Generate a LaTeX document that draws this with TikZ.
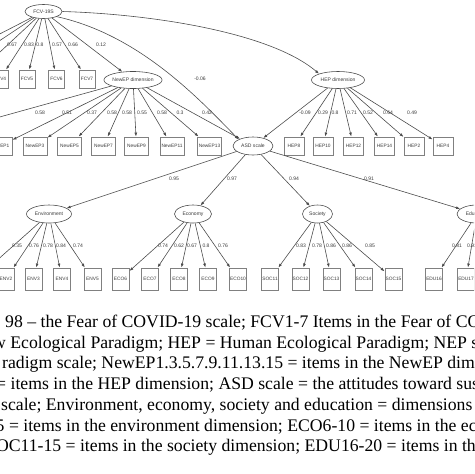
\documentclass[tikz,border=0pt]{standalone}
\usepackage{fontspec}
\setmainfont{Liberation Serif}
\setsansfont{Liberation Sans}
\usepackage{xcolor}
\usepackage{tikz}
\usetikzlibrary{shapes.geometric,arrows.meta}
\definecolor{edgeGray}{HTML}{4A4A4A}
\definecolor{boxGray}{HTML}{808080}
\definecolor{textGray}{HTML}{3C3C3C}
\tikzset{
	latent/.style = {ellipse, draw = edgeGray, line width = 0.5pt, inner sep = 0pt, font = \sffamily\fontsize{4.3}{5}\selectfont, text = textGray},
	indicator/.style = {rectangle, draw = boxGray, line width = 0.8pt, inner sep = 0pt, font = \sffamily\fontsize{4.1}{5}\selectfont, text = textGray},
	loading/.style = {inner sep = 0pt, font = \sffamily\fontsize{4.3}{5}\selectfont, text = textGray},
	regression/.style = {draw = edgeGray, line width = 0.5pt, -{Latex[length = 3.4pt, width = 2.4pt]}},
	caption/.style = {anchor = base west, inner sep = 0pt, font = \fontsize{15.1}{17}\selectfont}
}
\newcommand{\itemNode}[5]{
	\node[indicator, minimum width = #4cm, minimum height = #5cm] (#1) at (#2, #3) {#1};
}
\newcommand{\loading}[3]{
	\node[loading] at (#1, #2) {#3};
}

\begin{document}
\begin{tikzpicture}[x = 0.03cm, y = -0.03cm]%

		\useasboundingbox (0, 0) rectangle (474, 474);
		\fill[white] (0, 0) rectangle (474, 474);
		\clip (0, 0) rectangle (474, 474);

		% latent variables
		\node[latent, minimum width = 1.11cm, minimum height = 0.42cm] (fcv) at (43.5, 11.5) {FCV-19S};
		\node[latent, minimum width = 1.59cm, minimum height = 0.51cm] (newep) at (133, 80) {NewEP dimension};
		\node[latent, minimum width = 1.59cm, minimum height = 0.51cm] (hep) at (338, 80) {HEP dimension};
		\node[latent, minimum width = 1.20cm, minimum height = 0.54cm] (asd) at (253, 146) {ASD scale};
		\node[latent, minimum width = 1.35cm, minimum height = 0.54cm] (env) at (49, 214) {Environment};
		\node[latent, minimum width = 1.11cm, minimum height = 0.54cm] (eco) at (193, 214) {Economy};
		\node[latent, minimum width = 0.90cm, minimum height = 0.54cm] (soc) at (317.5, 214) {Society};
		\node[latent, minimum width = 1.20cm, minimum height = 0.54cm] (edu) at (477, 214) {Education};

		% fear of covid items
		\coordinate (FCV1) at (-88, 79);
		\coordinate (FCV2) at (-58, 79);
		\coordinate (FCV3) at (-29, 79);
		\itemNode{FCV4}{0}{79}{0.48}{0.54}
		\itemNode{FCV5}{27}{79}{0.48}{0.54}
		\itemNode{FCV6}{56.5}{79}{0.48}{0.54}
		\itemNode{FCV7}{87}{79}{0.48}{0.54}

		% newep items
		\coordinate (NewEP15) at (-40, 128);
		\itemNode{NewEP1}{0}{146}{0.72}{0.54}
		\itemNode{NewEP3}{35}{146}{0.72}{0.54}
		\itemNode{NewEP5}{69.5}{146}{0.72}{0.54}
		\itemNode{NewEP7}{103.5}{146}{0.72}{0.54}
		\itemNode{NewEP9}{136.5}{146}{0.72}{0.54}
		\itemNode{NewEP11}{172}{146}{0.72}{0.54}
		\itemNode{NewEP13}{209.5}{146}{0.72}{0.54}

		% hep items
		\itemNode{HEP8}{294}{146}{0.60}{0.54}
		\itemNode{HEP10}{323}{146}{0.60}{0.54}
		\itemNode{HEP12}{353.5}{146}{0.60}{0.54}
		\itemNode{HEP14}{384.5}{146}{0.60}{0.54}
		\itemNode{HEP2}{414}{146}{0.60}{0.54}
		\itemNode{HEP4}{443}{146}{0.60}{0.54}

		% environment items
		\coordinate (ENV1) at (-24, 279);
		\itemNode{ENV2}{6}{279}{0.51}{0.66}
		\itemNode{ENV3}{33.5}{279}{0.51}{0.66}
		\itemNode{ENV4}{62}{279}{0.51}{0.66}
		\itemNode{ENV5}{92.5}{279}{0.51}{0.66}

		% economy items
		\itemNode{ECO6}{120.5}{279}{0.51}{0.66}
		\itemNode{ECO7}{150}{279}{0.51}{0.66}
		\itemNode{ECO8}{179}{279}{0.51}{0.66}
		\itemNode{ECO9}{208}{279}{0.51}{0.66}
		\itemNode{ECO10}{238}{279}{0.51}{0.66}

		% society items
		\itemNode{SOC11}{270}{279}{0.51}{0.66}
		\itemNode{SOC12}{300.5}{279}{0.51}{0.66}
		\itemNode{SOC13}{331.5}{279}{0.51}{0.66}
		\itemNode{SOC14}{363.5}{279}{0.51}{0.66}
		\itemNode{SOC15}{393.5}{279}{0.51}{0.66}

		% education items
		\itemNode{EDU16}{434}{279}{0.51}{0.66}
		\itemNode{EDU17}{466}{279}{0.51}{0.66}
		\coordinate (EDU18) at (497, 279);
		\coordinate (EDU19) at (528, 279);

		% measurement paths
		\foreach \n in {FCV1, FCV2, FCV3, FCV4, FCV5, FCV6, FCV7}
			\draw[regression] (fcv) -- (\n);
		\foreach \n in {NewEP15, NewEP1, NewEP3, NewEP5, NewEP7, NewEP9, NewEP11, NewEP13}
			\draw[regression] (newep) -- (\n);
		\foreach \n in {HEP8, HEP10, HEP12, HEP14, HEP2, HEP4}
			\draw[regression] (hep) -- (\n);
		\foreach \n in {ENV1, ENV2, ENV3, ENV4, ENV5}
			\draw[regression] (env) -- (\n);
		\foreach \n in {ECO6, ECO7, ECO8, ECO9, ECO10}
			\draw[regression] (eco) -- (\n);
		\foreach \n in {SOC11, SOC12, SOC13, SOC14, SOC15}
			\draw[regression] (soc) -- (\n);
		\foreach \n in {EDU16, EDU17, EDU18, EDU19}
			\draw[regression] (edu) -- (\n);

		% structural paths
		\draw[regression] (fcv) -- (newep);
		\draw[regression] (fcv.east) .. controls (150, 14) and (270, 32) .. (hep.north west);
		\draw[regression] (fcv.south east) .. controls (140, 35) and (200, 100) .. (asd.north west);
		\draw[regression] (newep) -- (asd);
		\draw[regression] (hep) -- (asd);
		\foreach \n in {env, eco, soc, edu}
			\draw[regression] (asd) -- (\n);

		% loadings
		\loading{12}{45}{0.67}
		\loading{29}{45}{0.83}
		\loading{40}{45}{0.8}
		\loading{57}{45}{0.57}
		\loading{73}{45}{0.66}
		\loading{101}{45}{0.12}
		\loading{200}{79}{-0.06}

		\loading{40}{113}{0.58}
		\loading{67}{113}{0.51}
		\loading{92}{113}{0.37}
		\loading{112}{113}{0.58}
		\loading{127}{113}{0.58}
		\loading{142}{113}{0.55}
		\loading{162}{113}{0.58}
		\loading{180}{113}{0.3}
		\loading{207}{113}{0.42}

		\loading{305}{113}{-0.09}
		\loading{323}{113}{0.29}
		\loading{335}{113}{0.8}
		\loading{352}{113}{0.71}
		\loading{368}{113}{0.52}
		\loading{388}{113}{0.64}
		\loading{412}{113}{0.49}

		\loading{174}{179}{0.95}
		\loading{232}{179}{0.97}
		\loading{294}{179}{0.94}
		\loading{369}{179}{0.91}

		\loading{17}{246}{0.35}
		\loading{34}{246}{0.76}
		\loading{48}{246}{0.78}
		\loading{61}{246}{0.84}
		\loading{78}{246}{0.74}
		\loading{163}{246}{0.74}
		\loading{179}{246}{0.62}
		\loading{192}{246}{0.67}
		\loading{206}{246}{0.8}
		\loading{223}{246}{0.76}
		\loading{301}{246}{0.83}
		\loading{317}{246}{0.78}
		\loading{331}{246}{0.86}
		\loading{347}{246}{0.86}
		\loading{370}{246}{0.85}
		\loading{457}{246}{0.81}
		\loading{472}{246}{0.91}

		% caption
		\node[caption] (cap1) at (5, 327.5) {98 -- the Fear of COVID-19 scale; FCV1-7 Items in the Fear of COVID-19 scale};
		\node[caption] (cap2) at (-7, 348.2) {w Ecological Paradigm; HEP = Human Ecological Paradigm; NEP scale};
		\node[caption] (cap3) at (2, 368.9) {radigm scale; NewEP1.3.5.7.9.11.13.15 = items in the NewEP dimension};
		\node[caption] (cap4) at (-4, 389.6) {= items in the HEP dimension; ASD scale = the attitudes toward sustainable};
		\node[caption] (cap5) at (1, 410.3) {scale; Environment, economy, society and education = dimensions in};
		\node[caption] (cap6) at (-4.5, 431) {5 = items in the environment dimension; ECO6-10 = items in the economy};
		\node[caption] (cap7) at (-14, 451.7) {SOC11-15 = items in the society dimension; EDU16-20 = items in the};

	\end{tikzpicture}
\end{document}
